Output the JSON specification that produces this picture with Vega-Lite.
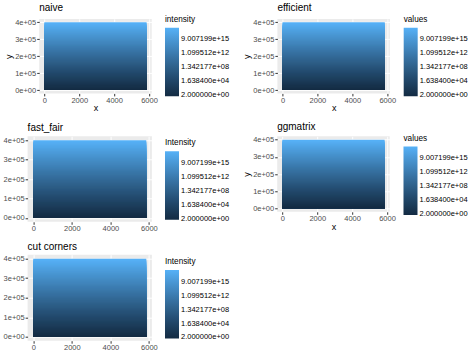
{
  "$schema": "https://vega.github.io/schema/vega-lite/v6.json",
  "background": "white",
  "padding": {"left": -9, "top": 2.9, "right": 0, "bottom": 0},
  "datasets": {
    "raster": [
      {"x_lo": 0, "x_hi": 5860, "y_top": 399750, "intensity": 18446744073709551616},
      {"x_lo": 0, "x_hi": 5860, "y_top": 393600, "intensity": 9223372036854775808},
      {"x_lo": 0, "x_hi": 5860, "y_top": 387450, "intensity": 4611686018427387904},
      {"x_lo": 0, "x_hi": 5860, "y_top": 381300, "intensity": 2305843009213693952},
      {"x_lo": 0, "x_hi": 5860, "y_top": 375150, "intensity": 1152921504606846976},
      {"x_lo": 0, "x_hi": 5860, "y_top": 369000, "intensity": 576460752303423488},
      {"x_lo": 0, "x_hi": 5860, "y_top": 362850, "intensity": 288230376151711744},
      {"x_lo": 0, "x_hi": 5860, "y_top": 356700, "intensity": 144115188075855872},
      {"x_lo": 0, "x_hi": 5860, "y_top": 350550, "intensity": 72057594037927936},
      {"x_lo": 0, "x_hi": 5860, "y_top": 344400, "intensity": 36028797018963968},
      {"x_lo": 0, "x_hi": 5860, "y_top": 338250, "intensity": 18014398509481984},
      {"x_lo": 0, "x_hi": 5860, "y_top": 332100, "intensity": 9007199254740992},
      {"x_lo": 0, "x_hi": 5860, "y_top": 325950, "intensity": 4503599627370496},
      {"x_lo": 0, "x_hi": 5860, "y_top": 319800, "intensity": 2251799813685248},
      {"x_lo": 0, "x_hi": 5860, "y_top": 313650, "intensity": 1125899906842624},
      {"x_lo": 0, "x_hi": 5860, "y_top": 307500, "intensity": 562949953421312},
      {"x_lo": 0, "x_hi": 5860, "y_top": 301350, "intensity": 281474976710656},
      {"x_lo": 0, "x_hi": 5860, "y_top": 295200, "intensity": 140737488355328},
      {"x_lo": 0, "x_hi": 5860, "y_top": 289050, "intensity": 70368744177664},
      {"x_lo": 0, "x_hi": 5860, "y_top": 282900, "intensity": 35184372088832},
      {"x_lo": 0, "x_hi": 5860, "y_top": 276750, "intensity": 17592186044416},
      {"x_lo": 0, "x_hi": 5860, "y_top": 270600, "intensity": 8796093022208},
      {"x_lo": 0, "x_hi": 5860, "y_top": 264450, "intensity": 4398046511104},
      {"x_lo": 0, "x_hi": 5860, "y_top": 258300, "intensity": 2199023255552},
      {"x_lo": 0, "x_hi": 5860, "y_top": 252150, "intensity": 1099511627776},
      {"x_lo": 0, "x_hi": 5860, "y_top": 246000, "intensity": 549755813888},
      {"x_lo": 0, "x_hi": 5860, "y_top": 239850, "intensity": 274877906944},
      {"x_lo": 0, "x_hi": 5860, "y_top": 233700, "intensity": 137438953472},
      {"x_lo": 0, "x_hi": 5860, "y_top": 227550, "intensity": 68719476736},
      {"x_lo": 0, "x_hi": 5860, "y_top": 221400, "intensity": 34359738368},
      {"x_lo": 0, "x_hi": 5860, "y_top": 215250, "intensity": 17179869184},
      {"x_lo": 0, "x_hi": 5860, "y_top": 209100, "intensity": 8589934592},
      {"x_lo": 0, "x_hi": 5860, "y_top": 202950, "intensity": 4294967296},
      {"x_lo": 0, "x_hi": 5860, "y_top": 196800, "intensity": 2147483648},
      {"x_lo": 0, "x_hi": 5860, "y_top": 190650, "intensity": 1073741824},
      {"x_lo": 0, "x_hi": 5860, "y_top": 184500, "intensity": 536870912},
      {"x_lo": 0, "x_hi": 5860, "y_top": 178350, "intensity": 268435456},
      {"x_lo": 0, "x_hi": 5860, "y_top": 172200, "intensity": 134217728},
      {"x_lo": 0, "x_hi": 5860, "y_top": 166050, "intensity": 67108864},
      {"x_lo": 0, "x_hi": 5860, "y_top": 159900, "intensity": 33554432},
      {"x_lo": 0, "x_hi": 5860, "y_top": 153750, "intensity": 16777216},
      {"x_lo": 0, "x_hi": 5860, "y_top": 147600, "intensity": 8388608},
      {"x_lo": 0, "x_hi": 5860, "y_top": 141450, "intensity": 4194304},
      {"x_lo": 0, "x_hi": 5860, "y_top": 135300, "intensity": 2097152},
      {"x_lo": 0, "x_hi": 5860, "y_top": 129150, "intensity": 1048576},
      {"x_lo": 0, "x_hi": 5860, "y_top": 123000, "intensity": 524288},
      {"x_lo": 0, "x_hi": 5860, "y_top": 116850, "intensity": 262144},
      {"x_lo": 0, "x_hi": 5860, "y_top": 110700, "intensity": 131072},
      {"x_lo": 0, "x_hi": 5860, "y_top": 104550, "intensity": 65536},
      {"x_lo": 0, "x_hi": 5860, "y_top": 98400, "intensity": 32768},
      {"x_lo": 0, "x_hi": 5860, "y_top": 92250, "intensity": 16384},
      {"x_lo": 0, "x_hi": 5860, "y_top": 86100, "intensity": 8192},
      {"x_lo": 0, "x_hi": 5860, "y_top": 79950, "intensity": 4096},
      {"x_lo": 0, "x_hi": 5860, "y_top": 73800, "intensity": 2048},
      {"x_lo": 0, "x_hi": 5860, "y_top": 67650, "intensity": 1024},
      {"x_lo": 0, "x_hi": 5860, "y_top": 61500, "intensity": 512},
      {"x_lo": 0, "x_hi": 5860, "y_top": 55350, "intensity": 256},
      {"x_lo": 0, "x_hi": 5860, "y_top": 49200, "intensity": 128},
      {"x_lo": 0, "x_hi": 5860, "y_top": 43050, "intensity": 64},
      {"x_lo": 0, "x_hi": 5860, "y_top": 36900, "intensity": 32},
      {"x_lo": 0, "x_hi": 5860, "y_top": 30750, "intensity": 16},
      {"x_lo": 0, "x_hi": 5860, "y_top": 24600, "intensity": 8},
      {"x_lo": 0, "x_hi": 5860, "y_top": 18450, "intensity": 4},
      {"x_lo": 0, "x_hi": 5860, "y_top": 12300, "intensity": 2},
      {"x_lo": 0, "x_hi": 5860, "y_top": 6150, "intensity": 1}
    ]
  },
  "spacing": 8.4,
  "resolve": {"scale": {"color": "independent"}, "legend": {"color": "independent"}},
  "vconcat": [
    {
      "spacing": 11.2,
      "resolve": {"scale": {"color": "independent"}, "legend": {"color": "independent"}},
      "hconcat": [
        {"width": 1, "height": 1, "view": {"fill": null, "stroke": null}, "data": {"values": []}, "mark": "point"},
        {
          "width": 112.5, "height": 74.5,
          "title": "naive",
          "data": {"name": "raster"},
          "mark": {"type": "rect"},
          "encoding": {
            "x": {"field": "x_lo", "type": "quantitative", "scale": {"domain": [-293, 6153], "nice": false, "zero": false}, "axis": {"title": "x", "values": [0, 2000, 4000, 6000], "format": "d"}},
            "x2": {"field": "x_hi"},
            "y": {"field": "y_top", "type": "quantitative", "scale": {"domain": [-20000, 420000], "nice": false, "zero": false}, "axis": {"title": "y", "values": [0, 100000, 200000, 300000, 400000], "labelExpr": "replace(format(datum.value, '.0e'), regexp('e[+]([0-9])$'), 'e+0$1')"}},
            "y2": {"datum": 0},
            "color": {"field": "intensity", "type": "quantitative", "scale": {"type": "log", "base": 2, "domain": [1, 18446744073709551616], "range": ["#132B43", "#56B1F7"], "interpolate": "lab"},
              "legend": {"title": "intensity", "orient": "none", "direction": "vertical", "legendX": 125.8, "legendY": -2.9, "values": [2, 16384, 134217728, 1099511627776, 9007199254740992], "labelExpr": "replace(format(datum.value, '.6e'), regexp('e[+]([0-9])$'), 'e+0$1')"}}
          }
        },
        {
          "width": 112.5, "height": 74.5,
          "title": "efficient",
          "data": {"name": "raster"},
          "mark": {"type": "rect"},
          "encoding": {
            "x": {"field": "x_lo", "type": "quantitative", "scale": {"domain": [-293, 6153], "nice": false, "zero": false}, "axis": {"title": "x", "values": [0, 2000, 4000, 6000], "format": "d"}},
            "x2": {"field": "x_hi"},
            "y": {"field": "y_top", "type": "quantitative", "scale": {"domain": [-20000, 420000], "nice": false, "zero": false}, "axis": {"title": "y", "values": [0, 100000, 200000, 300000, 400000], "labelExpr": "replace(format(datum.value, '.0e'), regexp('e[+]([0-9])$'), 'e+0$1')"}},
            "y2": {"datum": 0},
            "color": {"field": "intensity", "type": "quantitative", "scale": {"type": "log", "base": 2, "domain": [1, 18446744073709551616], "range": ["#132B43", "#56B1F7"], "interpolate": "lab"},
              "legend": {"title": "values", "orient": "none", "direction": "vertical", "legendX": 126.3, "legendY": -2.9, "values": [2, 16384, 134217728, 1099511627776, 9007199254740992], "labelExpr": "replace(format(datum.value, '.6e'), regexp('e[+]([0-9])$'), 'e+0$1')"}}
          }
        }
      ]
    },
    {
      "spacing": 10.6,
      "resolve": {"scale": {"color": "independent"}, "legend": {"color": "independent"}},
      "hconcat": [
        {"width": 1, "height": 1, "view": {"fill": null, "stroke": null}, "data": {"values": []}, "mark": "point"},
        {
          "width": 124.3, "height": 85.5,
          "title": "fast_fair",
          "data": {"name": "raster"},
          "mark": {"type": "rect"},
          "encoding": {
            "x": {"field": "x_lo", "type": "quantitative", "scale": {"domain": [-293, 6153], "nice": false, "zero": false}, "axis": {"title": null, "values": [0, 2000, 4000, 6000], "format": "d"}},
            "x2": {"field": "x_hi"},
            "y": {"field": "y_top", "type": "quantitative", "scale": {"domain": [-20000, 420000], "nice": false, "zero": false}, "axis": {"title": null, "values": [0, 100000, 200000, 300000, 400000], "labelExpr": "replace(format(datum.value, '.0e'), regexp('e[+]([0-9])$'), 'e+0$1')"}},
            "y2": {"datum": 0},
            "color": {"field": "intensity", "type": "quantitative", "scale": {"type": "log", "base": 2, "domain": [1, 18446744073709551616], "range": ["#132B43", "#56B1F7"], "interpolate": "lab"},
              "legend": {"title": "Intensity", "orient": "none", "direction": "vertical", "legendX": 137.4, "legendY": 3.2, "values": [2, 16384, 134217728, 1099511627776, 9007199254740992], "labelExpr": "replace(format(datum.value, '.6e'), regexp('e[+]([0-9])$'), 'e+0$1')"}}
          }
        },
        {
          "width": 112.5, "height": 75.5,
          "title": "ggmatrix",
          "data": {"name": "raster"},
          "mark": {"type": "rect"},
          "encoding": {
            "x": {"field": "x_lo", "type": "quantitative", "scale": {"domain": [-293, 6153], "nice": false, "zero": false}, "axis": {"title": "x", "values": [0, 2000, 4000, 6000], "format": "d"}},
            "x2": {"field": "x_hi"},
            "y": {"field": "y_top", "type": "quantitative", "scale": {"domain": [-20000, 420000], "nice": false, "zero": false}, "axis": {"title": "y", "values": [0, 100000, 200000, 300000, 400000], "labelExpr": "replace(format(datum.value, '.0e'), regexp('e[+]([0-9])$'), 'e+0$1')"}},
            "y2": {"datum": 0},
            "color": {"field": "intensity", "type": "quantitative", "scale": {"type": "log", "base": 2, "domain": [1, 18446744073709551616], "range": ["#132B43", "#56B1F7"], "interpolate": "lab"},
              "legend": {"title": "values", "orient": "none", "direction": "vertical", "legendX": 126.3, "legendY": -1.6, "values": [2, 16384, 134217728, 1099511627776, 9007199254740992], "labelExpr": "replace(format(datum.value, '.6e'), regexp('e[+]([0-9])$'), 'e+0$1')"}}
          }
        }
      ]
    },
    {
      "spacing": 10.6,
      "resolve": {"scale": {"color": "independent"}, "legend": {"color": "independent"}},
      "hconcat": [
        {"width": 1, "height": 1, "view": {"fill": null, "stroke": null}, "data": {"values": []}, "mark": "point"},
        {
          "width": 124.3, "height": 86,
          "title": "cut corners",
          "data": {"name": "raster"},
          "mark": {"type": "rect"},
          "encoding": {
            "x": {"field": "x_lo", "type": "quantitative", "scale": {"domain": [-293, 6153], "nice": false, "zero": false}, "axis": {"title": null, "values": [0, 2000, 4000, 6000], "format": "d"}},
            "x2": {"field": "x_hi"},
            "y": {"field": "y_top", "type": "quantitative", "scale": {"domain": [-20000, 420000], "nice": false, "zero": false}, "axis": {"title": null, "values": [0, 100000, 200000, 300000, 400000], "labelExpr": "replace(format(datum.value, '.0e'), regexp('e[+]([0-9])$'), 'e+0$1')"}},
            "y2": {"datum": 0},
            "color": {"field": "intensity", "type": "quantitative", "scale": {"type": "log", "base": 2, "domain": [1, 18446744073709551616], "range": ["#132B43", "#56B1F7"], "interpolate": "lab"},
              "legend": {"title": "Intensity", "orient": "none", "direction": "vertical", "legendX": 137.4, "legendY": 3.6, "values": [2, 16384, 134217728, 1099511627776, 9007199254740992], "labelExpr": "replace(format(datum.value, '.6e'), regexp('e[+]([0-9])$'), 'e+0$1')"}}
          }
        }
      ]
    }
  ],
  "config": {
    "font": "Liberation Sans",
    "view": {"fill": "#EBEBEB", "stroke": null},
    "title": {"anchor": "start", "frame": "group", "fontSize": 10, "fontWeight": "normal", "offset": 3, "color": "#000000"},
    "axis": {"domain": false, "tickColor": "#333333", "tickSize": 2.5, "labelColor": "#4D4D4D", "labelFontSize": 7.5, "titleFontSize": 9, "titleFontWeight": "normal", "titleColor": "#000000", "gridColor": "#FFFFFF", "gridWidth": 1, "labelOverlap": false},
    "axisX": {"labelPadding": 0.5, "titlePadding": 0},
    "axisY": {"labelPadding": 1, "titlePadding": 1.5},
    "legend": {"gradientLength": 68.5, "gradientThickness": 14, "gradientStrokeWidth": 0, "titleFontSize": 8.2, "titleFontWeight": "normal", "titleColor": "#000000", "titlePadding": 3.5, "labelFontSize": 7.5, "labelColor": "#000000", "labelOffset": 1.5, "labelOverlap": false, "padding": 0}
  }
}
